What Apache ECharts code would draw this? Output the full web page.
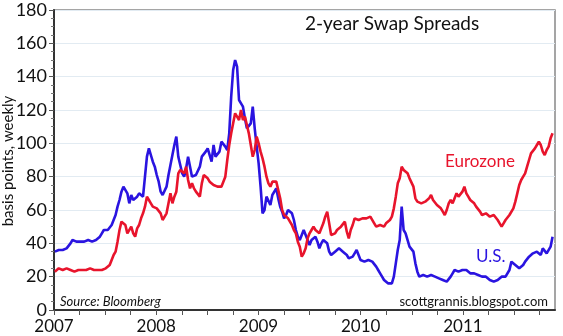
<!DOCTYPE html>
<html>
<head>
<meta charset="utf-8">
<script src="https://cdn.jsdelivr.net/npm/echarts@6/dist/echarts.min.js"></script>
<style>
  html, body { margin: 0; padding: 0; background: #fff; }
  #chart { width: 563px; height: 336px; }
</style>
</head>
<body>
<div id="chart"></div>
<script>
// weekly readings, first week of Jan 2007 through Nov 2011
const startYear = 2007;
const yTicks = [0, 20, 40, 60, 80, 100, 120, 140, 160, 180];
const yearLabels = [2007, 2008, 2009, 2010, 2011];

const usSpread = [
    35, 35, 36, 35, 36, 36, 37, 37, 40, 42, 41, 41, 40, 41, 40, 41, 41, 42, 41, 41,
    42, 42, 43, 44, 46, 48, 49, 48, 49, 51, 54, 57, 62, 66, 71, 74, 75, 70, 64, 69,
    66, 65, 68, 70, 69, 68, 80, 92, 97, 93, 89, 86, 81, 77, 71, 69, 70, 74, 81, 87,
    93, 99, 104, 92, 87, 82, 80, 85, 92, 86, 80, 80, 81, 82, 86, 92, 93, 95, 97, 98,
    89, 99, 92, 93, 95, 101, 100, 98, 96, 106, 128, 144, 150, 146, 126, 124, 122, 115, 109, 108,
    112, 122, 109, 98, 88, 74, 58, 60, 68, 67, 63, 69, 70, 73, 67, 62, 59, 55, 57, 60,
    61, 58, 54, 48, 44, 42, 42, 48, 45, 44, 39, 42, 43, 44, 41, 37, 40, 42, 42, 40,
    35, 33, 34, 35, 36, 37, 36, 35, 34, 33, 31, 30, 32, 34, 36, 33, 30, 30, 29, 28,
    30, 29, 29, 28, 26, 24, 22, 20, 18, 17, 16, 16, 16, 20, 28, 36, 42, 62, 48, 46,
    45, 38, 38, 35, 28, 23, 20, 21, 21, 20, 20, 19, 21, 22, 20, 20, 19, 18, 18, 17,
    17, 16, 20, 22, 24, 23, 23, 24, 24, 25, 24, 23, 22, 22, 22, 21, 21, 20, 20, 20,
    20, 19, 18, 17, 17, 17, 18, 19, 20, 20, 20, 21, 24, 29, 29, 27, 28, 25, 26, 27,
    29, 30, 32, 33, 34, 35, 35, 34, 33, 37, 37, 34, 34, 38, 44
];

const euroSpread = [
    23, 24, 25, 25, 24, 25, 25, 24, 24, 23, 23, 24, 24, 23, 24, 24, 24, 25, 25, 26,
    24, 24, 24, 25, 24, 24, 25, 26, 27, 30, 33, 35, 41, 48, 53, 54, 51, 46, 46, 50,
    46, 44, 49, 51, 55, 58, 62, 68, 66, 64, 62, 62, 61, 62, 58, 54, 55, 58, 64, 70,
    64, 68, 71, 82, 84, 83, 82, 86, 78, 73, 76, 73, 71, 70, 68, 76, 81, 81, 79, 77,
    76, 75, 74, 74, 73, 74, 74, 80, 90, 99, 106, 112, 118, 116, 114, 120, 114, 116, 111, 106,
    99, 92, 96, 104, 100, 95, 91, 86, 80, 76, 74, 77, 78, 77, 76, 67, 60, 57, 56, 55,
    54, 51, 48, 46, 41, 38, 32, 34, 37, 43, 46, 48, 50, 48, 47, 46, 45, 52, 56, 59,
    52, 45, 44, 46, 48, 48, 50, 51, 53, 47, 43, 48, 51, 55, 55, 54, 55, 55, 56, 55,
    54, 56, 57, 52, 50, 51, 51, 50, 50, 52, 52, 54, 56, 61, 68, 76, 79, 86, 84, 83,
    82, 79, 78, 74, 67, 65, 65, 64, 65, 65, 66, 67, 69, 66, 65, 63, 62, 61, 59, 57,
    60, 64, 66, 64, 67, 70, 68, 69, 71, 74, 70, 68, 66, 65, 64, 62, 61, 59, 57, 56,
    58, 57, 56, 57, 57, 56, 54, 52, 50, 52, 54, 53, 57, 58, 61, 65, 70, 75, 78, 80,
    82, 86, 90, 94, 95, 97, 99, 101, 99, 95, 93, 96, 98, 103, 106
];

const weekPos = i => startYear + (3 + 7 * i) / 365.25;
const usData = usSpread.map((v, i) => [weekPos(i), v]);
const euroData = euroSpread.map((v, i) => [weekPos(i), v]);

const FONT = 'Lato, "DejaVu Sans", sans-serif';
const RED = '#e8142c';
const BLUE = '#2a14e0';

const chart = echarts.init(document.getElementById('chart'));
chart.setOption({
    animation: false,
    backgroundColor: '#fff',
    grid: {
        left: 54, right: 8, top: 10, bottom: 26,
        show: true, borderColor: '#888', borderWidth: 1.5
    },
    xAxis: {
        type: 'value',
        min: 2007,
        max: 2011.9,
        interval: 0.25,
        axisLine: {lineStyle: {color: '#333', width: 2}},
        axisTick: {length: 5, lineStyle: {color: '#555'}},
        splitLine: {show: false},
        axisLabel: {
            margin: 8,
            fontFamily: FONT,
            fontSize: 17,
            color: '#111',
            showMaxLabel: false,
            formatter: v => yearLabels.includes(Math.round(v * 100) / 100) ? String(v) : ''
        }
    },
    yAxis: {
        type: 'value',
        min: yTicks[0],
        max: yTicks[yTicks.length - 1],
        interval: 20,
        axisLine: {show: true, lineStyle: {color: '#333', width: 2}},
        axisTick: {show: true, length: 5, lineStyle: {color: '#555'}},
        minorTick: {show: true, splitNumber: 4, length: 3, lineStyle: {color: '#777'}},
        splitLine: {lineStyle: {color: '#e2ebf2', width: 1}},
        axisLabel: {
            margin: 7,
            fontFamily: FONT,
            fontSize: 18,
            color: '#111'
        }
    },
    graphic: [
        {type: 'text', left: 305, top: 14, style: {text: '2-year Swap Spreads', font: '19px ' + FONT, fill: '#111', textAlign: 'center'}},
        {type: 'text', x: 8, y: 161, rotation: Math.PI / 2,
            style: {text: 'basis points, weekly', font: '15px ' + FONT, fill: '#111', textAlign: 'center', textVerticalAlign: 'middle'}},
        {type: 'text', x: 445, y: 162, style: {text: 'Eurozone', font: '17px ' + FONT, fill: RED, textVerticalAlign: 'middle'}},
        {type: 'text', x: 476, y: 257, style: {text: 'U.S.', font: '17px ' + FONT, fill: BLUE, textVerticalAlign: 'middle'}},
        {type: 'text', x: 60, y: 302, style: {text: 'Source: Bloomberg', font: 'italic 13px ' + FONT, fill: '#111', textVerticalAlign: 'middle'}},
        {type: 'text', x: 548, y: 302, style: {text: 'scottgrannis.blogspot.com', font: '13px ' + FONT, fill: '#111', textAlign: 'right', textVerticalAlign: 'middle'}}
    ],
    series: [
        {
            name: 'U.S.',
            type: 'line',
            data: usData,
            showSymbol: false,
            lineStyle: {color: BLUE, width: 2.6},
            z: 2
        },
        {
            name: 'Eurozone',
            type: 'line',
            data: euroData,
            showSymbol: false,
            lineStyle: {color: RED, width: 2.6},
            z: 3
        }
    ]
});
</script>
</body>
</html>
